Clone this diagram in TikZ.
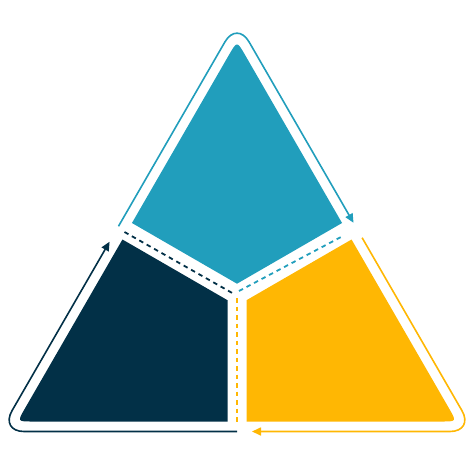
\documentclass[tikz,border=0pt]{standalone}
\usetikzlibrary{calc,arrows.meta}
\definecolor{cblue}{RGB}{33,158,188}
\definecolor{cnavy}{RGB}{2,48,71}
\definecolor{cyellow}{RGB}{255,183,3}
\begin{document}
\begin{tikzpicture}[x=1pt,y=-1pt,
  outl/.style={line width=1.6pt, rounded corners=24pt},
  tipend/.style={-{Triangle[length=9pt,width=8pt]}},
  sepline/.style={line width=1.8pt, dash pattern=on 4.5pt off 4pt}]
\useasboundingbox (0,0) rectangle (474,474);
% outer triangle
\coordinate (A) at (237,21);
\coordinate (B) at (0,431.5);
\coordinate (C) at (474,431.5);
% inner triangle
\coordinate (Ai) at (237,41);
\coordinate (Bi) at (17.4,421.5);
\coordinate (Ci) at (456.6,421.5);
% kite corners
\coordinate (BL) at (131.95,223.0);
\coordinate (BC) at (237,283.7);
\coordinate (BR) at (342.05,223.0);
\coordinate (NL) at (122.45,239.5);
\coordinate (NC) at (227.5,300.2);
\coordinate (NB) at (227.5,421.5);
\coordinate (YR) at (351.55,239.5);
\coordinate (YC) at (246.5,300.2);
\coordinate (YB) at (246.5,421.5);
% fills
\fill[cblue] (BL) -- ($(Ai)!16pt!(BL)$) .. controls (Ai) .. ($(Ai)!16pt!(BR)$) -- (BR) -- (BC) -- cycle;
\fill[cnavy] (NL) -- ($(Bi)!15pt!(NL)$) .. controls (Bi) .. ($(Bi)!15pt!(NB)$) -- (NB) -- (NC) -- cycle;
\fill[cyellow] (YR) -- ($(Ci)!15pt!(YR)$) .. controls (Ci) .. ($(Ci)!15pt!(YB)$) -- (YB) -- (YC) -- cycle;
% outline segments
\coordinate (bs) at (118.5,226.25);
\coordinate (be) at (353.5,222.8);
\coordinate (ys) at (362.1,237.7);
\coordinate (ye) at (252,431.5);
\coordinate (ns) at (237,431.5);
\coordinate (ne) at (109.6,241.7);
\draw[outl,cblue,tipend] (bs) -- (A) -- (be);
\draw[outl,cyellow,tipend] (ys) -- (C) -- (ye);
\draw[outl,cnavy,tipend] (ns) -- (B) -- (ne);
% dashed separators
\coordinate (d1a) at (124.5,232);
\coordinate (d1b) at (234,294);
\coordinate (d2a) at (239,291);
\coordinate (d2b) at (341,237);
\coordinate (d3a) at (237,298);
\coordinate (d3b) at (237,422);
\draw[sepline,cnavy] (d1a) -- (d1b);
\draw[sepline,cblue] (d2a) -- (d2b);
\draw[sepline,cyellow] (d3a) -- (d3b);
\end{tikzpicture}
\end{document}
